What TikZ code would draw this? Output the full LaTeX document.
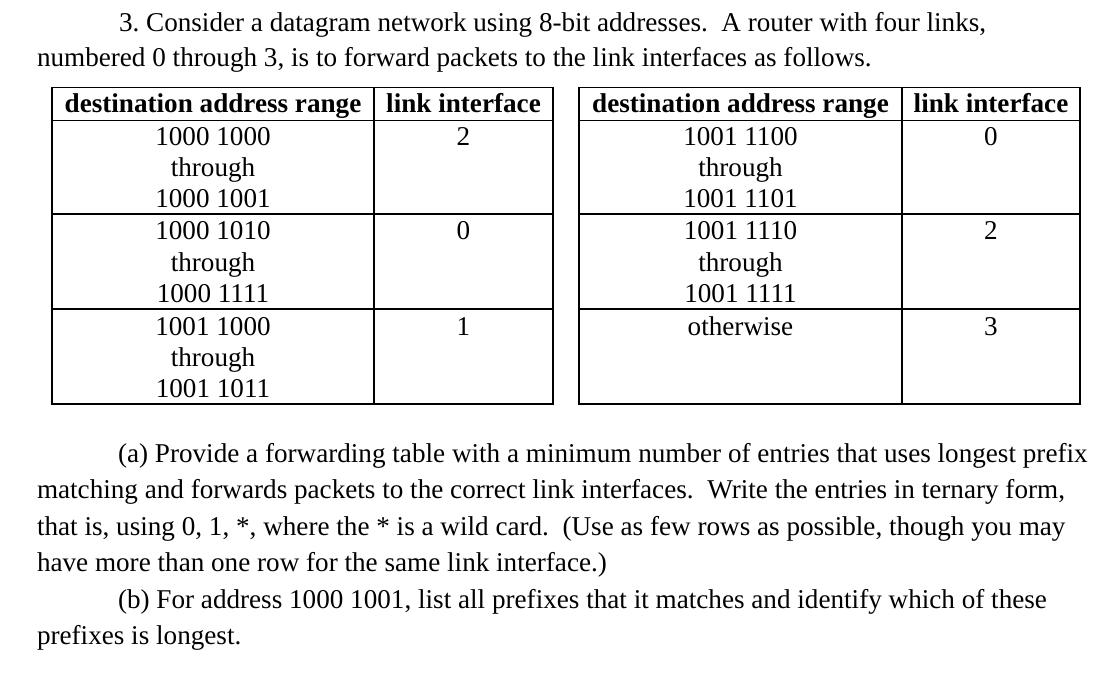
\documentclass[tikz,border=0pt]{standalone}
\usepackage{fontspec}
\setmainfont{Liberation Serif}
\begin{document}
\begin{tikzpicture}[x=1pt,y=-1pt,
  every node/.style={inner sep=0pt,outer sep=0pt,font=\fontsize{27.15}{31}\selectfont},
  para/.style={anchor=base west},
  cell/.style={anchor=base},
  head/.style={anchor=base,font=\fontsize{27.15}{31}\selectfont\bfseries},
  rule/.style={draw=black,line width=1.1pt}]
\useasboundingbox (0,0) rectangle (1110,676);
\frenchspacing
% intro
\node[para] (l1) at (119,31.5) {3. Consider a datagram network using 8-bit addresses.\ \ A router with four links,};
\node[para] (l2) at (37,66.5) {numbered 0 through 3, is to forward packets to the link interfaces as follows.};
% left table
\draw[rule] (52,87.5) rectangle (553,404);
\draw[rule] (374,87.5) -- (374,404);
\draw[rule] (52,120.5) -- (553,120.5);
\draw[rule] (52,214) -- (553,214);
\draw[rule] (52,309) -- (553,309);
\node[head] (lh1) at (213,112.5) {destination address range};
\node[head] (lh2) at (463.5,112.5) {link interface};
\node[cell] (la1) at (213,145.5) {1000 1000};
\node[cell] (la2) at (213,176.5) {through};
\node[cell] (la3) at (213,207.5) {1000 1001};
\node[cell] (li1) at (463.5,145.5) {2};
\node[cell] (lb1) at (213,240) {1000 1010};
\node[cell] (lb2) at (213,271) {through};
\node[cell] (lb3) at (213,302) {1000 1111};
\node[cell] (li2) at (463.5,240) {0};
\node[cell] (lc1) at (213,335) {1001 1000};
\node[cell] (lc2) at (213,366) {through};
\node[cell] (lc3) at (213,397) {1001 1011};
\node[cell] (li3) at (463.5,335) {1};
% right table
\draw[rule] (579,87.5) rectangle (1080,404);
\draw[rule] (902,87.5) -- (902,404);
\draw[rule] (579,120.5) -- (1080,120.5);
\draw[rule] (579,214) -- (1080,214);
\draw[rule] (579,309) -- (1080,309);
\node[head] (rh1) at (740.5,112.5) {destination address range};
\node[head] (rh2) at (991,112.5) {link interface};
\node[cell] (ra1) at (740.5,145.5) {1001 1100};
\node[cell] (ra2) at (740.5,176.5) {through};
\node[cell] (ra3) at (740.5,207.5) {1001 1101};
\node[cell] (ri1) at (991,145.5) {0};
\node[cell] (rb1) at (740.5,240) {1001 1110};
\node[cell] (rb2) at (740.5,271) {through};
\node[cell] (rb3) at (740.5,302) {1001 1111};
\node[cell] (ri2) at (991,240) {2};
\node[cell] (rc1) at (740.5,335) {otherwise};
\node[cell] (ri3) at (991,335) {3};
% questions
\node[para] (a1) at (118,462) {(a) Provide a forwarding table with a minimum number of entries that uses longest prefix};
\node[para] (a2) at (37,498.5) {matching and forwards packets to the correct link interfaces.\ \ Write the entries in ternary form,};
\node[para] (a3) at (37,535) {that is, using 0, 1, *, where the * is a wild card.\ \ (Use as few rows as possible, though you may};
\node[para] (a4) at (37,571.5) {have more than one row for the same link interface.)};
\node[para] (b1) at (118,608) {(b) For address 1000 1001, list all prefixes that it matches and identify which of these};
\node[para] (b2) at (37,644.5) {prefixes is longest.};
\end{tikzpicture}
\end{document}
